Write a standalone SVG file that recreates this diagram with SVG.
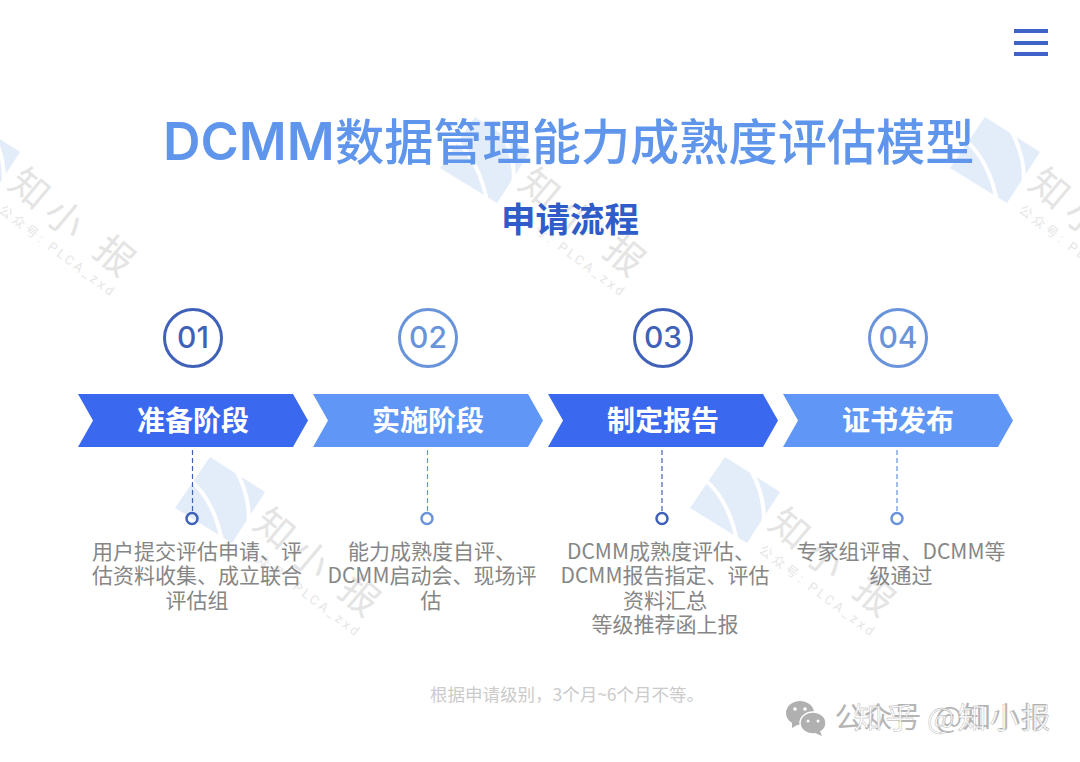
<svg xmlns="http://www.w3.org/2000/svg" width="1080" height="762" viewBox="0 0 1080 762">
<style>
text{font-family:"Noto Sans CJK SC","Noto Sans",sans-serif;text-anchor:middle}
.num{font-family:"Inter","Roboto",sans-serif;font-size:30px;font-weight:500}
.lab{font-size:28px;font-weight:700;fill:#fff}
.desc{font-size:21px;fill:#868686}
.dk{stroke:#3f62b8;fill:none}
.lt{stroke:#6a94da;fill:none}
.dkf{fill:#3f62b8}
.ltf{fill:#6a94da}
.c1{fill:#3a68ee}
.c2{fill:#6097f7}
.conn{stroke-width:1.200;stroke-dasharray:5 3;fill:none}
.wm1{font-size:38px;fill:#e4e4e4}
.wm2{font-family:"Roboto","Noto Sans CJK SC",sans-serif;font-size:13px;fill:#e6e6e6}
.wx{font-size:29px}
</style>
<defs>
<g id="wm">
<path d="M-10-43 45-8 12 43-45 8Z" fill="#e3ecf9"/>
<path d="M-31-21Q-5 0 3 46M15-32Q32 0 28 26" fill="none" stroke="#fff" stroke-width="4"/>
<text class="wm1" transform="translate(46 39) rotate(40)">知</text>
<text class="wm1" transform="translate(81 69) rotate(40)">小</text>
<text class="wm1" transform="translate(131 106) rotate(40)">报</text>
<text class="wm2" transform="translate(79 94) rotate(37)" textLength="140">公众号: PLCA_zxd</text>
</g>
</defs>
<rect width="1080" height="762" fill="#fff"/>
<g id="watermarks">
<use href="#wm" x="-25" y="160"/>
<use href="#wm" x="485" y="160"/>
<use href="#wm" x="995" y="160"/>
<use href="#wm" x="220" y="500"/>
<use href="#wm" x="735" y="500"/>
</g>
<g id="menu" stroke="#3f62c8" stroke-width="4"><path d="M1014 31H1048M1014 43H1048M1014 54H1048"/></g>
<g id="title">
<text y="160" fill="#5f96ec" font-weight="500" style="text-anchor:start"><tspan x="163" font-family="Inter,Roboto,sans-serif" font-size="52" font-weight="600">DCMM</tspan><tspan x="335" font-size="49.200">数据管理能力成熟度评估模型</tspan></text>
<text x="570" y="232" font-size="34.500" font-weight="700" fill="#2f5cc8">申请流程</text>
</g>
<g id="connectors">
<path class="conn dk" d="M192.500 450V512"/>
<path class="conn lt" d="M427.500 450V512"/>
<path class="conn dk" d="M662 450V512"/>
<path class="conn lt" d="M897 450V512"/>
</g>
<g id="step1">
<circle class="dk" cx="193" cy="338" r="28.500" stroke-width="3"/><text class="num dkf" x="193" y="348">01</text>
<path class="c1" d="M78 394H293L308 420.500 293 447H78L93 420.500Z"/><text class="lab" x="193" y="431">准备阶段</text>
<circle class="dk" cx="192" cy="518.500" r="5.500" stroke-width="2.500"/>
<text class="desc" x="197" y="559">用户提交评估申请、评</text><text class="desc" x="197" y="583">估资料收集、成立联合</text><text class="desc" x="197" y="608">评估组</text>
</g>
<g id="step2">
<circle class="lt" cx="428" cy="338" r="28.500" stroke-width="3"/><text class="num ltf" x="428" y="348">02</text>
<path class="c2" d="M313 394H528L543 420.500 528 447H313L328 420.500Z"/><text class="lab" x="428" y="431">实施阶段</text>
<circle class="lt" cx="427" cy="518.500" r="5.500" stroke-width="2.500"/>
<text class="desc" x="432" y="559">能力成熟度自评、</text><text class="desc" x="432" y="583">DCMM启动会、现场评</text><text class="desc" x="431" y="608">估</text>
</g>
<g id="step3">
<circle class="dk" cx="663" cy="338" r="28.500" stroke-width="3"/><text class="num dkf" x="663" y="348">03</text>
<path class="c1" d="M548 394H763L778 420.500 763 447H548L563 420.500Z"/><text class="lab" x="663" y="431">制定报告</text>
<circle class="dk" cx="662" cy="518.500" r="5.500" stroke-width="2.500"/>
<text class="desc" x="661" y="559">DCMM成熟度评估、</text><text class="desc" x="665" y="583">DCMM报告指定、评估</text><text class="desc" x="665" y="608">资料汇总</text><text class="desc" x="665" y="632">等级推荐函上报</text>
</g>
<g id="step4">
<circle class="lt" cx="898" cy="338" r="28.500" stroke-width="3"/><text class="num ltf" x="898" y="348">04</text>
<path class="c2" d="M783 394H998L1013 420.500 998 447H783L798 420.500Z"/><text class="lab" x="898" y="431">证书发布</text>
<circle class="lt" cx="897" cy="518.500" r="5.500" stroke-width="2.500"/>
<text class="desc" x="901" y="559">专家组评审、DCMM等</text><text class="desc" x="901" y="583">级通过</text>
</g>
<g id="note"><text x="567" y="701" font-size="17.500" fill="#cbcbcb">根据申请级别，3个月~6个月不等。</text></g>
<g id="credit">
<ellipse cx="800" cy="713" rx="14" ry="12" fill="#b0b0b0"/><path d="M792 722l0 6 7-4Z" fill="#b0b0b0"/>
<ellipse cx="813" cy="723" rx="13" ry="11" fill="#b0b0b0" stroke="#fff" stroke-width="1.500"/><path d="M820 731l2 5-7-3Z" fill="#b0b0b0"/>
<g fill="#fff"><circle cx="795" cy="709" r="1.800"/><circle cx="805" cy="709" r="1.800"/><circle cx="808" cy="721" r="1.500"/><circle cx="818" cy="721" r="1.500"/></g>
<text class="wx" x="878" y="728" fill="#b5b5b5">公众号</text>
<text class="wx" x="992" y="728" fill="#b5b5b5">@知小报</text>
<text class="wx" x="952" y="729" fill="#fff" fill-opacity=".8" stroke="#aaa" stroke-width=".4" textLength="197">知乎 @知小报</text>
</g>
</svg>
